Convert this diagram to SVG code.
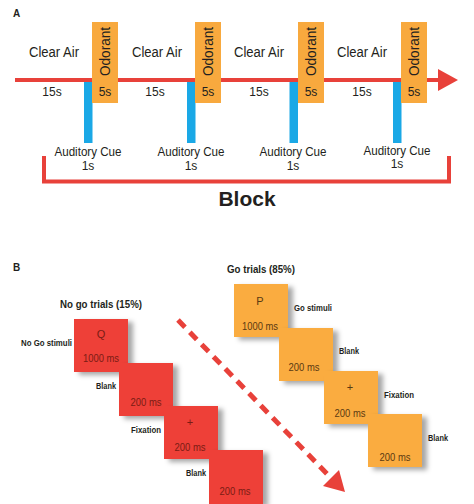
<svg xmlns="http://www.w3.org/2000/svg" width="474" height="504" viewBox="0 0 474 504">
<defs>
<style>
.t{font-family:"Liberation Sans","Open Sans",sans-serif;fill:#231f20}
.m{font-size:14px}
.a{font-size:12px}
.b{font-weight:bold}
.s{font-size:9px;font-weight:bold}
.rt{font-size:11px;fill:#7a1c14}
.ot{font-size:11px;fill:#5a3a12}
.odor{fill:#F8A93E}
.cue{fill:#1AA8E6}
.rb{fill:#EE4137}
.ob{fill:#FAAC40}
</style>
<filter id="sh" x="-20%" y="-20%" width="150%" height="150%">
<feDropShadow dx="5" dy="3" stdDeviation="2.5" flood-color="#000" flood-opacity="0.35"/>
</filter>
</defs>
<rect width="474" height="504" fill="#fff"/>

<text class="t b" x="13" y="17" font-size="10">A</text>
<text class="t b" x="13" y="271" font-size="10">B</text>

<!-- connectors / timeline -->
<g id="connectors">
<line x1="15" y1="80" x2="440" y2="80" stroke="#E8413A" stroke-width="4"/>
<polygon points="438,69 458,80 438,91" fill="#E8413A"/>
<path d="M44,156 V181.5 H449 V156" fill="none" stroke="#E8413A" stroke-width="4"/>
<line x1="178" y1="320" x2="331" y2="478" stroke="#E8413A" stroke-width="5" stroke-dasharray="10,7"/>
<polygon points="345,492 323,486 339,470" fill="#E8413A"/>
</g>

<!-- cues -->
<g id="cue1"><rect class="cue" x="84" y="82" width="8.5" height="61"/><text class="t a" x="88" y="156" text-anchor="middle" textLength="67" lengthAdjust="spacingAndGlyphs">Auditory Cue</text><text class="t a" x="88" y="170" text-anchor="middle">1s</text></g>
<g id="cue2"><rect class="cue" x="187" y="82" width="8.5" height="61"/><text class="t a" x="191" y="156" text-anchor="middle" textLength="67" lengthAdjust="spacingAndGlyphs">Auditory Cue</text><text class="t a" x="191" y="170" text-anchor="middle">1s</text></g>
<g id="cue3"><rect class="cue" x="289.5" y="82" width="8.5" height="61"/><text class="t a" x="293" y="156" text-anchor="middle" textLength="67" lengthAdjust="spacingAndGlyphs">Auditory Cue</text><text class="t a" x="293" y="170" text-anchor="middle">1s</text></g>
<g id="cue4"><rect class="cue" x="393" y="82" width="8.5" height="61"/><text class="t a" x="397" y="155" text-anchor="middle" textLength="67" lengthAdjust="spacingAndGlyphs">Auditory Cue</text><text class="t a" x="397" y="168" text-anchor="middle">1s</text></g>

<!-- clear air -->
<g id="air1"><text class="t m" x="54" y="57" text-anchor="middle" textLength="50" lengthAdjust="spacingAndGlyphs">Clear Air</text><text class="t a" x="52" y="96" text-anchor="middle">15s</text></g>
<g id="air2"><text class="t m" x="157" y="57" text-anchor="middle" textLength="50" lengthAdjust="spacingAndGlyphs">Clear Air</text><text class="t a" x="155" y="96" text-anchor="middle">15s</text></g>
<g id="air3"><text class="t m" x="259" y="57" text-anchor="middle" textLength="50" lengthAdjust="spacingAndGlyphs">Clear Air</text><text class="t a" x="259" y="96" text-anchor="middle">15s</text></g>
<g id="air4"><text class="t m" x="362" y="57" text-anchor="middle" textLength="50" lengthAdjust="spacingAndGlyphs">Clear Air</text><text class="t a" x="362" y="96" text-anchor="middle">15s</text></g>

<!-- odorant -->
<g id="odor1"><rect class="odor" x="92" y="22" width="26" height="81"/><text class="t m" transform="translate(110,51.5) rotate(-90)" text-anchor="middle" textLength="49" lengthAdjust="spacingAndGlyphs">Odorant</text><text class="t a" x="105" y="96" text-anchor="middle">5s</text></g>
<g id="odor2"><rect class="odor" x="195" y="22" width="26" height="81"/><text class="t m" transform="translate(213,51.5) rotate(-90)" text-anchor="middle" textLength="49" lengthAdjust="spacingAndGlyphs">Odorant</text><text class="t a" x="208" y="96" text-anchor="middle">5s</text></g>
<g id="odor3"><rect class="odor" x="298" y="22" width="26" height="81"/><text class="t m" transform="translate(316,51.5) rotate(-90)" text-anchor="middle" textLength="49" lengthAdjust="spacingAndGlyphs">Odorant</text><text class="t a" x="311" y="96" text-anchor="middle">5s</text></g>
<g id="odor4"><rect class="odor" x="401" y="22" width="26" height="81"/><text class="t m" transform="translate(419,51.5) rotate(-90)" text-anchor="middle" textLength="49" lengthAdjust="spacingAndGlyphs">Odorant</text><text class="t a" x="414" y="96" text-anchor="middle">5s</text></g>

<g id="block"><text class="t b" x="247" y="206" font-size="21" text-anchor="middle">Block</text></g>

<!-- Panel B: No go -->
<text class="t b" x="101" y="308" font-size="11" text-anchor="middle" textLength="82" lengthAdjust="spacingAndGlyphs">No go trials (15%)</text>
<g id="ng1"><rect class="rb" x="74" y="319" width="54" height="53" filter="url(#sh)"/><text class="t rt" x="101" y="338" text-anchor="middle">Q</text><text class="t rt" x="101" y="362" text-anchor="middle" textLength="36" lengthAdjust="spacingAndGlyphs">1000 ms</text><text class="t s" x="72" y="346" text-anchor="end" textLength="51" lengthAdjust="spacingAndGlyphs">No Go stimuli</text></g>
<g id="ng2"><rect class="rb" x="119" y="363" width="54" height="53" filter="url(#sh)"/><text class="t rt" x="146" y="406" text-anchor="middle" textLength="31" lengthAdjust="spacingAndGlyphs">200 ms</text><text class="t s" x="116" y="389" text-anchor="end" textLength="20" lengthAdjust="spacingAndGlyphs">Blank</text></g>
<g id="ng3"><rect class="rb" x="164" y="406" width="54" height="53" filter="url(#sh)"/><text class="t rt" x="190" y="426" text-anchor="middle">+</text><text class="t rt" x="190" y="451" text-anchor="middle" textLength="31" lengthAdjust="spacingAndGlyphs">200 ms</text><text class="t s" x="161" y="433" text-anchor="end" textLength="30" lengthAdjust="spacingAndGlyphs">Fixation</text></g>
<g id="ng4"><rect class="rb" x="209" y="450" width="54" height="54" filter="url(#sh)"/><text class="t rt" x="235" y="495" text-anchor="middle" textLength="31" lengthAdjust="spacingAndGlyphs">200 ms</text><text class="t s" x="206" y="476" text-anchor="end" textLength="20" lengthAdjust="spacingAndGlyphs">Blank</text></g>

<!-- Panel B: Go -->
<text class="t b" x="227" y="273" font-size="11" textLength="68" lengthAdjust="spacingAndGlyphs">Go trials (85%)</text>
<g id="g1"><rect class="ob" x="234" y="284" width="54" height="53" filter="url(#sh)"/><text class="t ot" x="260" y="305" text-anchor="middle">P</text><text class="t ot" x="260" y="330" text-anchor="middle" textLength="36" lengthAdjust="spacingAndGlyphs">1000 ms</text><text class="t s" x="294" y="311" textLength="38" lengthAdjust="spacingAndGlyphs">Go stimuli</text></g>
<g id="g2"><rect class="ob" x="279" y="328" width="54" height="53" filter="url(#sh)"/><text class="t ot" x="304" y="371" text-anchor="middle" textLength="31" lengthAdjust="spacingAndGlyphs">200 ms</text><text class="t s" x="339" y="354" textLength="20" lengthAdjust="spacingAndGlyphs">Blank</text></g>
<g id="g3"><rect class="ob" x="324" y="371" width="54" height="53" filter="url(#sh)"/><text class="t ot" x="350" y="391" text-anchor="middle">+</text><text class="t ot" x="350" y="417" text-anchor="middle" textLength="31" lengthAdjust="spacingAndGlyphs">200 ms</text><text class="t s" x="384" y="398" textLength="30" lengthAdjust="spacingAndGlyphs">Fixation</text></g>
<g id="g4"><rect class="ob" x="368" y="414" width="54" height="53" filter="url(#sh)"/><text class="t ot" x="395" y="461" text-anchor="middle" textLength="31" lengthAdjust="spacingAndGlyphs">200 ms</text><text class="t s" x="428" y="441" textLength="20" lengthAdjust="spacingAndGlyphs">Blank</text></g>
</svg>
